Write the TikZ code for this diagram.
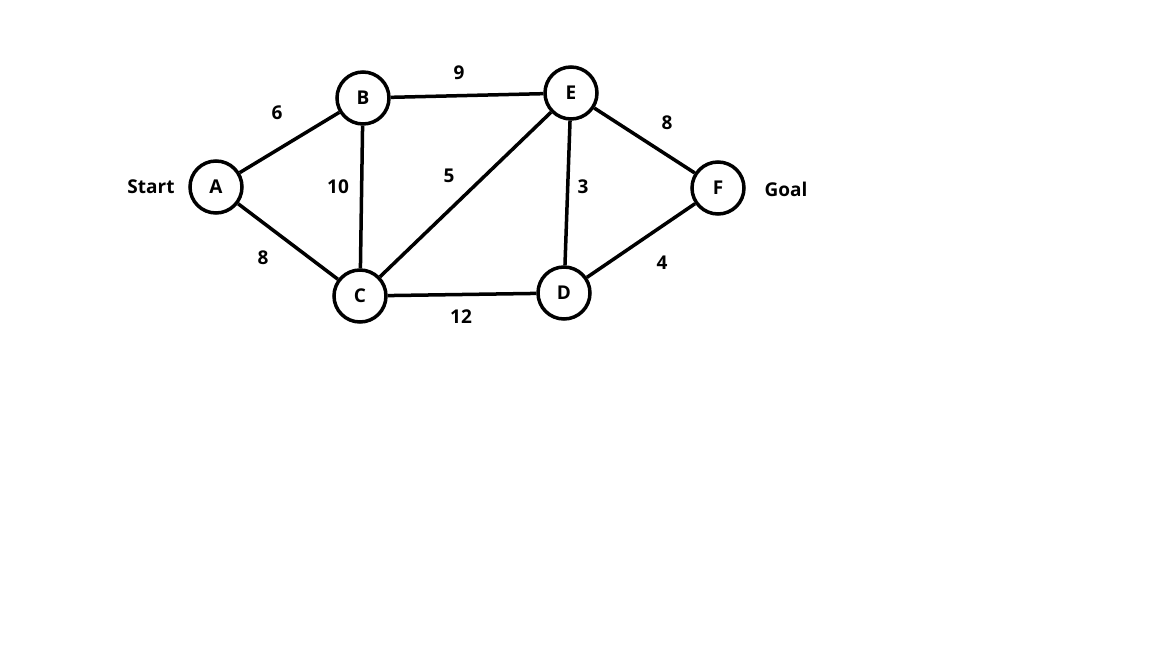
\documentclass[tikz,border=0pt]{standalone}
\usepackage{fontspec}
\setmainfont{Open Sans}
\begin{document}
\begin{tikzpicture}[x=1pt,y=-1pt,
  vert/.style={circle,draw,line width=3.5pt,minimum size=52pt,inner sep=0pt,font=\fontsize{19}{19}\selectfont\bfseries},
  lbl/.style={font=\fontsize{19}{19}\selectfont\bfseries},
  edge/.style={line width=3.5pt}]
\useasboundingbox (0,0) rectangle (1152,648);
\node[vert] (A) at (216,187) {A};
\node[vert] (B) at (363,98) {B};
\node[vert] (C) at (360,296) {C};
\node[vert] (D) at (564,293) {D};
\node[vert] (E) at (571,93) {E};
\node[vert] (F) at (718,188) {F};
\draw[edge] (A)--(B) (A)--(C) (B)--(C) (B)--(E) (C)--(E) (C)--(D) (E)--(D) (E)--(F) (D)--(F);
\node[lbl] (l1) at (277,113) {6};
\node[lbl] (l2) at (338,187) {10};
\node[lbl] (l3) at (263,258) {8};
\node[lbl] (l4) at (459,73) {9};
\node[lbl] (l5) at (449,176) {5};
\node[lbl] (l6) at (461,317) {12};
\node[lbl] (l7) at (583,187) {3};
\node[lbl] (l8) at (667,123) {8};
\node[lbl] (l9) at (662,263) {4};
\node[lbl] (s) at (151,187) {Start};
\node[lbl] (g) at (786,189) {Goal};
\end{tikzpicture}
\end{document}
